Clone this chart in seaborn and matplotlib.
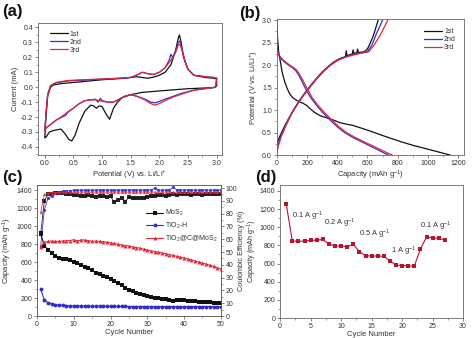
import numpy as np
import pandas as pd
import matplotlib
matplotlib.use("Agg")
import matplotlib.pyplot as plt
import seaborn as sns
from matplotlib.ticker import MultipleLocator, AutoMinorLocator, FormatStrFormatter

# ---------------- data ----------------
# (a) cyclic voltammetry: cathodic sweep (3.0 -> 0.0) then anodic sweep (0.0 -> 3.0)
cv1_v = [3.0, 2.95, 2.5, 2.0, 1.7, 1.5, 1.35, 1.27, 1.2, 1.13, 1.07, 1.0, 0.95, 0.9, 0.85, 0.8,
         0.7, 0.6, 0.53, 0.47, 0.42, 0.35, 0.28, 0.22, 0.15, 0.08, 0.03, 0.0,
         0.02, 0.05, 0.1, 0.15, 0.3, 0.6, 1.0, 1.4, 1.6, 1.7, 1.8, 1.9, 2.0, 2.1, 2.2, 2.28,
         2.33, 2.35, 2.38, 2.42, 2.5, 2.6, 2.8, 2.95, 3.0, 3.0]
cv1_i = [0.01, -0.003, -0.01, -0.025, -0.035, -0.05, -0.07, -0.1, -0.14, -0.215, -0.18, -0.13,
         -0.125, -0.14, -0.125, -0.12, -0.16, -0.24, -0.32, -0.36, -0.35, -0.31, -0.28, -0.285,
         -0.29, -0.3, -0.33, -0.34,
         -0.2, -0.06, 0.0, 0.015, 0.025, 0.035, 0.05, 0.06, 0.07, 0.065, 0.06, 0.068, 0.08,
         0.1, 0.15, 0.24, 0.33, 0.35, 0.3, 0.2, 0.12, 0.08, 0.065, 0.06, 0.055, 0.01]

cv2_v = [3.0, 2.98, 2.8, 2.6, 2.4, 2.25, 2.1, 2.0, 1.93, 1.85, 1.75, 1.6, 1.5, 1.4, 1.3, 1.2,
         1.1, 1.0, 0.97, 0.93, 0.88, 0.8, 0.7, 0.6, 0.5, 0.4, 0.36, 0.3, 0.2, 0.1, 0.03, 0.0,
         0.02, 0.05, 0.1, 0.2, 0.4, 0.8, 1.2, 1.5, 1.6, 1.7, 1.8, 1.9, 2.0, 2.1, 2.17, 2.2,
         2.23, 2.28, 2.33, 2.36, 2.4, 2.45, 2.5, 2.6, 2.8, 2.95, 3.0]
cv2_i = [0.06, 0.0, -0.01, -0.02, -0.04, -0.06, -0.08, -0.095, -0.105, -0.1, -0.08, -0.06,
         -0.05, -0.06, -0.08, -0.1, -0.1, -0.09, -0.075, -0.1, -0.08, -0.085, -0.09, -0.11,
         -0.14, -0.17, -0.19, -0.2, -0.22, -0.25, -0.27, -0.29,
         -0.18, -0.05, 0.01, 0.03, 0.042, 0.05, 0.057, 0.065, 0.08, 0.1, 0.09, 0.085, 0.1,
         0.13, 0.18, 0.22, 0.2, 0.24, 0.3, 0.31, 0.25, 0.17, 0.12, 0.08, 0.07, 0.065, 0.06]

cv3_v = [3.0, 2.98, 2.8, 2.6, 2.4, 2.25, 2.1, 2.0, 1.92, 1.85, 1.75, 1.6, 1.5, 1.4, 1.3, 1.2,
         1.1, 1.0, 0.9, 0.8, 0.7, 0.6, 0.5, 0.4, 0.3, 0.2, 0.1, 0.03, 0.0,
         0.02, 0.05, 0.1, 0.2, 0.4, 0.8, 1.2, 1.5, 1.6, 1.7, 1.8, 1.9, 2.0, 2.1, 2.2,
         2.28, 2.33, 2.36, 2.4, 2.45, 2.5, 2.6, 2.8, 2.95, 3.0]
cv3_i = [0.06, 0.0, -0.01, -0.02, -0.045, -0.065, -0.09, -0.11, -0.12, -0.11, -0.085, -0.06,
         -0.05, -0.06, -0.08, -0.1, -0.1, -0.095, -0.085, -0.085, -0.09, -0.11, -0.14, -0.165,
         -0.195, -0.22, -0.25, -0.27, -0.29,
         -0.18, -0.05, 0.01, 0.032, 0.045, 0.052, 0.058, 0.066, 0.08, 0.1, 0.09, 0.085, 0.1,
         0.13, 0.18, 0.23, 0.28, 0.29, 0.24, 0.17, 0.12, 0.08, 0.07, 0.065, 0.06]

# (b) charge / discharge profiles
dis1_cap = [0, 5, 12, 20, 35, 53, 70, 86, 105, 130, 155, 175, 200, 218, 250, 285, 320, 351,
            390, 420, 460, 505, 560, 615, 680, 750, 820, 900, 980, 1060, 1150]
dis1_v = [3.0, 2.6, 2.3, 2.15, 1.85, 1.62, 1.47, 1.36, 1.28, 1.22, 1.18, 1.15, 1.1, 1.04,
          0.95, 0.88, 0.84, 0.81, 0.76, 0.72, 0.69, 0.66, 0.6, 0.54, 0.46, 0.38, 0.3, 0.22,
          0.15, 0.08, 0.0]
chg1_cap = [0, 20, 45, 80, 120, 170, 220, 270, 320, 370, 420, 455, 460, 465, 500, 505, 510,
            530, 535, 540, 580, 600, 620, 640, 671]
chg1_v = [0.26, 0.42, 0.6, 0.82, 1.05, 1.3, 1.52, 1.72, 1.9, 2.05, 2.15, 2.19, 2.32, 2.21,
          2.25, 2.34, 2.26, 2.28, 2.36, 2.28, 2.3, 2.36, 2.5, 2.66, 3.0]
dis2_cap = [0, 5, 15, 40, 70, 100, 125, 145, 165, 190, 220, 260, 300, 350, 400, 450, 500,
            560, 620, 680, 740]
dis2_v = [2.6, 2.3, 2.2, 2.1, 2.02, 1.95, 1.88, 1.78, 1.65, 1.48, 1.3, 1.12, 0.96, 0.79,
          0.63, 0.5, 0.4, 0.3, 0.2, 0.1, 0.0]
chg2_cap = [0, 10, 30, 60, 100, 150, 200, 250, 300, 350, 400, 450, 500, 550, 600, 630, 660, 700]
chg2_v = [0.1, 0.25, 0.45, 0.68, 0.95, 1.22, 1.45, 1.66, 1.85, 2.0, 2.12, 2.18, 2.23, 2.27,
          2.3, 2.45, 2.7, 3.0]
dis3_cap = [0, 5, 15, 40, 70, 100, 130, 150, 172, 198, 230, 270, 312, 362, 412, 462, 515,
            575, 640, 700, 765]
dis3_v = [2.6, 2.3, 2.22, 2.12, 2.04, 1.97, 1.9, 1.8, 1.67, 1.5, 1.3, 1.12, 0.96, 0.79,
          0.63, 0.5, 0.4, 0.3, 0.2, 0.1, 0.0]
chg3_cap = [0, 10, 30, 60, 100, 150, 200, 250, 300, 350, 400, 450, 500, 550, 610, 645, 690, 735]
chg3_v = [0.05, 0.2, 0.42, 0.65, 0.93, 1.2, 1.43, 1.64, 1.83, 1.98, 2.1, 2.17, 2.22, 2.26,
          2.3, 2.45, 2.7, 3.0]

# (c) cycling performance, cycles 1..50
cycles_c = list(range(1, 51))
mos2_cap = [920, 780, 740, 700, 670, 650, 640, 630, 620, 605, 590, 570, 550, 530, 510, 480,
            465, 450, 435, 415, 395, 370, 340, 315, 295, 275, 255, 240, 230, 220, 210, 205,
            200, 195, 185, 175, 170, 180, 182, 178, 172, 170, 165, 160, 158, 155, 152, 150,
            148, 145]
tio2_cap = [305, 175, 150, 135, 128, 122, 118, 115, 113, 112, 111, 110, 110, 109, 109, 108,
            108, 108, 108, 107, 107, 107, 107, 107, 106, 106, 106, 106, 106, 106, 106, 106,
            105, 105, 105, 105, 105, 105, 105, 105, 105, 105, 105, 105, 105, 105, 105, 105,
            105, 105]
comp_cap = [770, 820, 830, 835, 830, 832, 835, 838, 840, 850, 835, 848, 845, 840, 832, 835,
            830, 828, 822, 815, 808, 800, 792, 785, 778, 770, 762, 755, 745, 735, 725, 718,
            710, 702, 695, 685, 675, 665, 655, 645, 635, 625, 612, 600, 590, 578, 565, 553,
            540, 525]
mos2_ce = [64, 90, 95, 95.5, 96, 96, 95.8, 95.5, 95.2, 94.5, 94.3, 94, 93.8, 94.5, 93.5, 93,
           94, 93.5, 93, 93.5, 89, 90.5, 92.5, 89.5, 93, 92, 92.5, 92, 92.5, 93, 93.5, 94,
           94.5, 94.5, 94.2, 94.5, 95.5, 94.8, 95, 95.2, 95, 94.5, 95, 95.5, 94.8, 95, 95.2,
           95, 95.2, 95]
tio2_ce = [54, 83, 92, 94, 96, 97, 97.5, 98, 98, 98.3, 98.3, 98.4, 98.4, 98.4, 98.5, 98.4,
           98.5, 98.4, 98.5, 98.5, 98.4, 98.5, 98.5, 98.4, 98.5, 98.5, 98.4, 98.5, 98.5, 98.5,
           98.5, 100, 98.5, 98.4, 98.5, 98.5, 100.5, 98.5, 98.4, 98.5, 98.5, 98.5, 98.4, 98.5,
           98.5, 98.5, 98.4, 98.5, 98.5, 98.6]
comp_ce = [81, 95, 96, 96.5, 96.5, 96.6, 96.6, 96.7, 96.7, 96.8, 96.7, 96.8, 96.8, 96.8,
           96.8, 96.8, 96.8, 96.8, 96.8, 96.8, 96.8, 96.8, 96.8, 96.8, 96.8, 96.8, 96.8, 96.8,
           96.8, 96.8, 96.8, 96.8, 96.8, 96.8, 96.8, 96.8, 96.8, 96.8, 96.8, 96.8, 96.8, 96.8,
           96.8, 96.8, 96.8, 96.8, 96.8, 96.8, 96.8, 96.8]

# (d) rate capability
cycles_d = list(range(1, 28))
rate_cap = [1255, 848, 845, 848, 855, 858, 865, 815, 793, 793, 786, 811, 731, 687, 683, 683,
            680, 629, 585, 577, 575, 572, 760, 892, 884, 877, 859]
rate_labels = ["0.1 A g$^{-1}$", "0.2 A g$^{-1}$", "0.5 A g$^{-1}$", "1 A g$^{-1}$",
               "0.1 A g$^{-1}$"]

# ---------------- style ----------------
sns.set_style("ticks")
plt.rcParams['font.family'] = ['Liberation Sans', 'DejaVu Sans']
plt.rcParams['mathtext.default'] = 'regular'

BLACK, BLUE, RED, DRED = '#111111', '#2f2fc8', '#e0283a', '#b8142e'
TXT = '#333333'
fs_tick, fs_lab = 5.0, 5.5


def style(ax):
    for s in ax.spines.values():
        s.set_color('#666666')
        s.set_linewidth(0.6)
        s.set_visible(True)
    ax.tick_params(which='major', direction='out', length=2.2, width=0.5,
                   labelsize=fs_tick, colors='#555555', labelcolor=TXT, pad=1.3)
    ax.tick_params(which='minor', direction='out', length=1.2, width=0.4, colors='#555555')
    ax.xaxis.set_minor_locator(AutoMinorLocator(2))
    ax.yaxis.set_minor_locator(AutoMinorLocator(2))


fig = plt.figure(figsize=(4.74, 3.38), dpi=100)
ax_a = fig.add_axes([0.080, 0.541, 0.388, 0.391])
ax_b = fig.add_axes([0.584, 0.541, 0.395, 0.402])
ax_c = fig.add_axes([0.078, 0.065, 0.388, 0.388])
ax_d = fig.add_axes([0.591, 0.059, 0.386, 0.394])

# ---------------- (a) ----------------
for v, i, c, name in [(cv1_v, cv1_i, BLACK, '1st'), (cv2_v, cv2_i, BLUE, '2nd'),
                      (cv3_v, cv3_i, RED, '3rd')]:
    df = pd.DataFrame({'V': v, 'I': i})
    sns.lineplot(data=df, x='V', y='I', sort=False, estimator=None, color=c, lw=0.9,
                 label=name, ax=ax_a)
ax_a.set_xlim(-0.12, 3.09)
ax_a.set_ylim(-0.455, 0.43)
ax_a.xaxis.set_major_locator(MultipleLocator(0.5))
ax_a.yaxis.set_major_locator(MultipleLocator(0.1))
ax_a.xaxis.set_major_formatter(FormatStrFormatter('%.1f'))
ax_a.yaxis.set_major_formatter(FormatStrFormatter('%.1f'))
ax_a.set_xlabel('Potential (V) vs. Li/Li$^{+}$', fontsize=fs_lab, color=TXT, labelpad=1.5)
ax_a.set_ylabel('Current (mA)', fontsize=fs_lab, color=TXT, labelpad=1.5)
ax_a.legend(loc='upper left', bbox_to_anchor=(0.03, 0.99), frameon=False, fontsize=5,
            handlelength=2.6, labelspacing=0.15, handletextpad=0.3, labelcolor=TXT)
style(ax_a)

# ---------------- (b) ----------------
for cap_d, v_d, cap_c, v_c, c, name in [
        (dis1_cap, dis1_v, chg1_cap, chg1_v, BLACK, '1st'),
        (dis2_cap, dis2_v, chg2_cap, chg2_v, BLUE, '2nd'),
        (dis3_cap, dis3_v, chg3_cap, chg3_v, RED, '3rd')]:
    sns.lineplot(x=cap_d, y=v_d, sort=False, estimator=None, color=c, lw=0.9, label=name,
                 ax=ax_b)
    sns.lineplot(x=cap_c, y=v_c, sort=False, estimator=None, color=c, lw=0.9, ax=ax_b)
ax_b.set_xlim(0, 1240)
ax_b.set_ylim(0, 3.02)
ax_b.xaxis.set_major_locator(MultipleLocator(200))
ax_b.yaxis.set_major_locator(MultipleLocator(0.5))
ax_b.yaxis.set_major_formatter(FormatStrFormatter('%.1f'))
ax_b.set_xlabel('Capacity (mAh g$^{-1}$)', fontsize=fs_lab, color=TXT, labelpad=1.5)
ax_b.set_ylabel('Potential (V vs. Li/Li$^{+}$)', fontsize=fs_lab, color=TXT, labelpad=1.5)
ax_b.legend(loc='upper right', bbox_to_anchor=(0.99, 0.98), frameon=False, fontsize=5,
            handlelength=2.6, labelspacing=0.15, handletextpad=0.3, labelcolor=TXT)
style(ax_b)

# ---------------- (c) ----------------
ax_c2 = ax_c.twinx()
for ce, c, m in [(mos2_ce, BLACK, 's'), (tio2_ce, BLUE, 'o'), (comp_ce, RED, '^')]:
    sns.lineplot(x=cycles_c, y=ce, color=c, marker=m, ms=2.3, mew=0, lw=0.6, alpha=0.9,
                 legend=False, ax=ax_c2)
for cap, c, m, name in [(mos2_cap, BLACK, 's', 'MoS$_2$'), (tio2_cap, BLUE, 'o', 'TiO$_2$-H'),
                        (comp_cap, RED, '^', 'TiO$_2$@C@MoS$_2$')]:
    sns.lineplot(x=cycles_c, y=cap, color=c, marker=m, ms=2.8, mew=0, lw=0.8, label=name,
                 ax=ax_c)
ax_c.set_xlim(0, 50)
ax_c.set_ylim(0, 1460)
ax_c2.set_ylim(0, 102.5)
ax_c.xaxis.set_major_locator(MultipleLocator(10))
ax_c.yaxis.set_major_locator(MultipleLocator(200))
ax_c2.yaxis.set_major_locator(MultipleLocator(10))
ax_c.set_xlabel('Cycle Number', fontsize=fs_lab, color=TXT, labelpad=1.0)
ax_c.set_ylabel('Capacity (mAh g$^{-1}$)', fontsize=fs_lab, color=TXT, labelpad=1.5)
ax_c2.set_ylabel('Coulombic Efficiency (%)', fontsize=5.2, color=TXT, labelpad=0.8)
ax_c.legend(loc='upper left', bbox_to_anchor=(0.56, 0.87), frameon=False, fontsize=5,
            handlelength=2.4, labelspacing=0.35, handletextpad=0.3, labelcolor=TXT)
style(ax_c)
style(ax_c2)
ax_c.set_zorder(ax_c2.get_zorder() + 1)
ax_c.patch.set_visible(False)

# ---------------- (d) ----------------
sns.lineplot(x=cycles_d, y=rate_cap, color=DRED, marker='s', ms=3, mew=0, lw=0.8, ax=ax_d)
ax_d.set_xlim(0, 30)
ax_d.set_ylim(0, 1466)
ax_d.xaxis.set_major_locator(MultipleLocator(5))
ax_d.yaxis.set_major_locator(MultipleLocator(200))
ax_d.set_xlabel('Cycle Number', fontsize=fs_lab, color=TXT, labelpad=1.0)
ax_d.set_ylabel('Capacity (mAh g$^{-1}$)', fontsize=5.2, color=TXT, labelpad=0.8)
for lab, (tx, ty) in zip(rate_labels, [(4.5, 1115), (9.8, 1040), (15.5, 920), (20.2, 738),
                                       (25.6, 1005)]):
    ax_d.text(tx, ty, lab, fontsize=5.4, color=TXT, ha='center', va='center')
style(ax_d)

# panel letters
for lab, x, y in [('(a)', 0.005, 0.965), ('(b)', 0.505, 0.96), ('(c)', 0.005, 0.475),
                  ('(d)', 0.538, 0.475)]:
    fig.text(x, y, lab, fontsize=12, fontweight='bold', color='#111111', va='center')

fig.savefig('out.png', dpi=100)
